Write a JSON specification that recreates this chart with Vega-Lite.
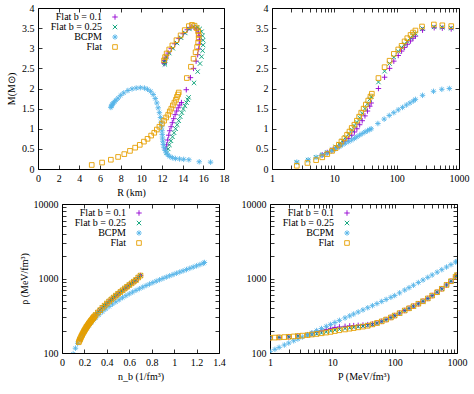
{
"$schema": "https://vega.github.io/schema/vega-lite/v6.json",
"padding": {"left": 5, "top": 2, "right": 5, "bottom": 5},
"config": {
 "font": "Liberation Serif",
 "view": {"stroke": "#000", "strokeWidth": 1},
 "axis": {"grid": false, "domain": false, "ticks": true, "tickColor": "#000", "tickSize": -4, "tickWidth": 0.8, "labelColor": "#000", "labelFont": "Liberation Serif", "labelFontSize": 10, "labelPadding": 8, "labelFlush": false, "labelOverlap": false, "titleColor": "#000", "titleFont": "Liberation Serif", "titleFontSize": 10, "titleFontWeight": "normal", "titlePadding": 4},
 "legend": {"labelFont": "Liberation Serif", "labelFontSize": 10, "labelColor": "#000"}
},
"datasets": {
"none": [],
"mr": [
{"eos":"Flat b = 0.1","R":12.35,"M":0.5},{"eos":"Flat b = 0.1","R":12.45,"M":0.6},{"eos":"Flat b = 0.1","R":12.55,"M":0.72},{"eos":"Flat b = 0.1","R":12.65,"M":0.84},{"eos":"Flat b = 0.1","R":12.75,"M":0.95},{"eos":"Flat b = 0.1","R":12.88,"M":1.05},{"eos":"Flat b = 0.1","R":13.0,"M":1.15},{"eos":"Flat b = 0.1","R":13.13,"M":1.25},{"eos":"Flat b = 0.1","R":13.27,"M":1.35},{"eos":"Flat b = 0.1","R":13.42,"M":1.44},{"eos":"Flat b = 0.1","R":13.57,"M":1.52},{"eos":"Flat b = 0.1","R":13.72,"M":1.59},{"eos":"Flat b = 0.1","R":13.88,"M":1.65},{"eos":"Flat b = 0.1","R":14.35,"M":1.97},{"eos":"Flat b = 0.1","R":14.75,"M":2.27},{"eos":"Flat b = 0.1","R":15.05,"M":2.5},{"eos":"Flat b = 0.1","R":15.3,"M":2.68},{"eos":"Flat b = 0.1","R":15.45,"M":2.84},{"eos":"Flat b = 0.1","R":15.55,"M":2.98},{"eos":"Flat b = 0.1","R":15.6,"M":3.1},{"eos":"Flat b = 0.1","R":15.62,"M":3.21},{"eos":"Flat b = 0.1","R":15.6,"M":3.31},{"eos":"Flat b = 0.1","R":15.52,"M":3.4},{"eos":"Flat b = 0.1","R":15.35,"M":3.48},{"eos":"Flat b = 0.1","R":15.1,"M":3.52},{"eos":"Flat b = 0.1","R":14.8,"M":3.52},{"eos":"Flat b = 0.1","R":14.45,"M":3.46},{"eos":"Flat b = 0.1","R":14.05,"M":3.36},{"eos":"Flat b = 0.1","R":13.65,"M":3.24},{"eos":"Flat b = 0.1","R":13.25,"M":3.11},{"eos":"Flat b = 0.1","R":12.9,"M":2.99},{"eos":"Flat b = 0.1","R":12.6,"M":2.88},{"eos":"Flat b = 0.1","R":12.4,"M":2.78},{"eos":"Flat b = 0.1","R":12.25,"M":2.7},{"eos":"Flat b = 0.1","R":12.2,"M":2.65},{"eos":"Flat b = 0.1","R":12.22,"M":2.62},
{"eos":"Flat b = 0.25","R":12.45,"M":0.4},{"eos":"Flat b = 0.25","R":12.6,"M":0.5},{"eos":"Flat b = 0.25","R":12.72,"M":0.6},{"eos":"Flat b = 0.25","R":12.87,"M":0.7},{"eos":"Flat b = 0.25","R":13.02,"M":0.8},{"eos":"Flat b = 0.25","R":13.17,"M":0.9},{"eos":"Flat b = 0.25","R":13.32,"M":1.0},{"eos":"Flat b = 0.25","R":13.47,"M":1.1},{"eos":"Flat b = 0.25","R":13.62,"M":1.2},{"eos":"Flat b = 0.25","R":13.77,"M":1.3},{"eos":"Flat b = 0.25","R":13.92,"M":1.4},{"eos":"Flat b = 0.25","R":14.07,"M":1.49},{"eos":"Flat b = 0.25","R":14.22,"M":1.57},{"eos":"Flat b = 0.25","R":14.37,"M":1.65},{"eos":"Flat b = 0.25","R":14.5,"M":1.72},{"eos":"Flat b = 0.25","R":14.58,"M":1.78},{"eos":"Flat b = 0.25","R":15.1,"M":2.14},{"eos":"Flat b = 0.25","R":15.45,"M":2.42},{"eos":"Flat b = 0.25","R":15.68,"M":2.62},{"eos":"Flat b = 0.25","R":15.83,"M":2.79},{"eos":"Flat b = 0.25","R":15.93,"M":2.94},{"eos":"Flat b = 0.25","R":15.98,"M":3.08},{"eos":"Flat b = 0.25","R":15.98,"M":3.2},{"eos":"Flat b = 0.25","R":15.93,"M":3.31},{"eos":"Flat b = 0.25","R":15.82,"M":3.41},{"eos":"Flat b = 0.25","R":15.65,"M":3.48},{"eos":"Flat b = 0.25","R":15.4,"M":3.52},{"eos":"Flat b = 0.25","R":15.05,"M":3.53},{"eos":"Flat b = 0.25","R":14.65,"M":3.48},{"eos":"Flat b = 0.25","R":14.25,"M":3.38},{"eos":"Flat b = 0.25","R":13.85,"M":3.26},{"eos":"Flat b = 0.25","R":13.45,"M":3.13},{"eos":"Flat b = 0.25","R":13.05,"M":3.0},{"eos":"Flat b = 0.25","R":12.7,"M":2.88},{"eos":"Flat b = 0.25","R":12.45,"M":2.78},{"eos":"Flat b = 0.25","R":12.3,"M":2.7},{"eos":"Flat b = 0.25","R":12.25,"M":2.64},{"eos":"Flat b = 0.25","R":12.28,"M":2.6},
{"eos":"BCPM","R":7.05,"M":1.53},{"eos":"BCPM","R":7.1,"M":1.56},{"eos":"BCPM","R":7.15,"M":1.58},{"eos":"BCPM","R":7.2,"M":1.61},{"eos":"BCPM","R":7.3,"M":1.64},{"eos":"BCPM","R":7.4,"M":1.67},{"eos":"BCPM","R":7.55,"M":1.71},{"eos":"BCPM","R":7.75,"M":1.76},{"eos":"BCPM","R":8.0,"M":1.83},{"eos":"BCPM","R":8.3,"M":1.89},{"eos":"BCPM","R":8.7,"M":1.95},{"eos":"BCPM","R":9.1,"M":1.99},{"eos":"BCPM","R":9.5,"M":2.01},{"eos":"BCPM","R":9.9,"M":2.02},{"eos":"BCPM","R":10.3,"M":2.01},{"eos":"BCPM","R":10.6,"M":1.98},{"eos":"BCPM","R":10.9,"M":1.93},{"eos":"BCPM","R":11.15,"M":1.85},{"eos":"BCPM","R":11.35,"M":1.75},{"eos":"BCPM","R":11.5,"M":1.64},{"eos":"BCPM","R":11.63,"M":1.52},{"eos":"BCPM","R":11.75,"M":1.4},{"eos":"BCPM","R":11.85,"M":1.28},{"eos":"BCPM","R":11.92,"M":1.16},{"eos":"BCPM","R":11.97,"M":1.05},{"eos":"BCPM","R":12.0,"M":0.95},{"eos":"BCPM","R":12.02,"M":0.86},{"eos":"BCPM","R":12.05,"M":0.77},{"eos":"BCPM","R":12.08,"M":0.69},{"eos":"BCPM","R":12.13,"M":0.61},{"eos":"BCPM","R":12.2,"M":0.53},{"eos":"BCPM","R":12.3,"M":0.46},{"eos":"BCPM","R":12.42,"M":0.4},{"eos":"BCPM","R":12.57,"M":0.35},{"eos":"BCPM","R":12.75,"M":0.31},{"eos":"BCPM","R":13.0,"M":0.28},{"eos":"BCPM","R":13.3,"M":0.26},{"eos":"BCPM","R":13.7,"M":0.25},{"eos":"BCPM","R":14.1,"M":0.24},{"eos":"BCPM","R":14.6,"M":0.23},{"eos":"BCPM","R":15.6,"M":0.18},{"eos":"BCPM","R":16.7,"M":0.17},
{"eos":"Flat","R":5.2,"M":0.1},{"eos":"Flat","R":6.2,"M":0.16},{"eos":"Flat","R":7.05,"M":0.23},{"eos":"Flat","R":7.75,"M":0.3},{"eos":"Flat","R":8.35,"M":0.37},{"eos":"Flat","R":8.9,"M":0.45},{"eos":"Flat","R":9.4,"M":0.53},{"eos":"Flat","R":9.85,"M":0.6},{"eos":"Flat","R":10.25,"M":0.68},{"eos":"Flat","R":10.6,"M":0.75},{"eos":"Flat","R":10.95,"M":0.83},{"eos":"Flat","R":11.25,"M":0.9},{"eos":"Flat","R":11.5,"M":0.98},{"eos":"Flat","R":11.75,"M":1.05},{"eos":"Flat","R":12.0,"M":1.13},{"eos":"Flat","R":12.2,"M":1.2},{"eos":"Flat","R":12.4,"M":1.28},{"eos":"Flat","R":12.6,"M":1.35},{"eos":"Flat","R":12.75,"M":1.43},{"eos":"Flat","R":12.9,"M":1.5},{"eos":"Flat","R":13.05,"M":1.58},{"eos":"Flat","R":13.2,"M":1.65},{"eos":"Flat","R":13.35,"M":1.72},{"eos":"Flat","R":13.45,"M":1.79},{"eos":"Flat","R":13.55,"M":1.85},{"eos":"Flat","R":13.62,"M":1.9},{"eos":"Flat","R":14.4,"M":2.26},{"eos":"Flat","R":14.8,"M":2.54},{"eos":"Flat","R":15.05,"M":2.74},{"eos":"Flat","R":15.25,"M":2.9},{"eos":"Flat","R":15.4,"M":3.03},{"eos":"Flat","R":15.5,"M":3.14},{"eos":"Flat","R":15.55,"M":3.24},{"eos":"Flat","R":15.55,"M":3.33},{"eos":"Flat","R":15.5,"M":3.42},{"eos":"Flat","R":15.35,"M":3.5},{"eos":"Flat","R":15.15,"M":3.56},{"eos":"Flat","R":14.9,"M":3.58},{"eos":"Flat","R":14.6,"M":3.55},{"eos":"Flat","R":14.2,"M":3.45},{"eos":"Flat","R":13.8,"M":3.32},{"eos":"Flat","R":13.4,"M":3.2},{"eos":"Flat","R":13.0,"M":3.07},{"eos":"Flat","R":12.7,"M":2.97},{"eos":"Flat","R":12.45,"M":2.87},{"eos":"Flat","R":12.3,"M":2.78},{"eos":"Flat","R":12.2,"M":2.7}
],
"mp": [
{"eos":"Flat b = 0.1","pc":6.4,"M":0.35},{"eos":"Flat b = 0.1","pc":7.7,"M":0.41},{"eos":"Flat b = 0.1","pc":9.2,"M":0.47},{"eos":"Flat b = 0.1","pc":10.5,"M":0.52},{"eos":"Flat b = 0.1","pc":12,"M":0.57},{"eos":"Flat b = 0.1","pc":13.5,"M":0.63},{"eos":"Flat b = 0.1","pc":15,"M":0.69},{"eos":"Flat b = 0.1","pc":17,"M":0.76},{"eos":"Flat b = 0.1","pc":19,"M":0.84},{"eos":"Flat b = 0.1","pc":21,"M":0.92},{"eos":"Flat b = 0.1","pc":23,"M":1.0},{"eos":"Flat b = 0.1","pc":25.5,"M":1.1},{"eos":"Flat b = 0.1","pc":28,"M":1.2},{"eos":"Flat b = 0.1","pc":31,"M":1.32},{"eos":"Flat b = 0.1","pc":34,"M":1.44},{"eos":"Flat b = 0.1","pc":37,"M":1.56},{"eos":"Flat b = 0.1","pc":39,"M":1.64},{"eos":"Flat b = 0.1","pc":51,"M":2.0},{"eos":"Flat b = 0.1","pc":64,"M":2.28},{"eos":"Flat b = 0.1","pc":77,"M":2.5},{"eos":"Flat b = 0.1","pc":90,"M":2.68},{"eos":"Flat b = 0.1","pc":106,"M":2.82},{"eos":"Flat b = 0.1","pc":120,"M":2.93},{"eos":"Flat b = 0.1","pc":134,"M":3.02},{"eos":"Flat b = 0.1","pc":148,"M":3.1},{"eos":"Flat b = 0.1","pc":167,"M":3.18},{"eos":"Flat b = 0.1","pc":183,"M":3.25},{"eos":"Flat b = 0.1","pc":200,"M":3.3},{"eos":"Flat b = 0.1","pc":260,"M":3.45},{"eos":"Flat b = 0.1","pc":400,"M":3.51},{"eos":"Flat b = 0.1","pc":540,"M":3.5},{"eos":"Flat b = 0.1","pc":750,"M":3.48},
{"eos":"Flat b = 0.25","pc":2.5,"M":0.16},{"eos":"Flat b = 0.25","pc":3.8,"M":0.22},{"eos":"Flat b = 0.25","pc":5.1,"M":0.29},{"eos":"Flat b = 0.25","pc":6.4,"M":0.35},{"eos":"Flat b = 0.25","pc":7.7,"M":0.41},{"eos":"Flat b = 0.25","pc":9.2,"M":0.48},{"eos":"Flat b = 0.25","pc":10.5,"M":0.55},{"eos":"Flat b = 0.25","pc":12,"M":0.62},{"eos":"Flat b = 0.25","pc":13.5,"M":0.7},{"eos":"Flat b = 0.25","pc":15,"M":0.78},{"eos":"Flat b = 0.25","pc":17,"M":0.87},{"eos":"Flat b = 0.25","pc":19,"M":0.97},{"eos":"Flat b = 0.25","pc":21,"M":1.07},{"eos":"Flat b = 0.25","pc":23,"M":1.16},{"eos":"Flat b = 0.25","pc":25.5,"M":1.27},{"eos":"Flat b = 0.25","pc":28,"M":1.38},{"eos":"Flat b = 0.25","pc":31,"M":1.5},{"eos":"Flat b = 0.25","pc":34,"M":1.62},{"eos":"Flat b = 0.25","pc":37,"M":1.73},{"eos":"Flat b = 0.25","pc":39,"M":1.8},{"eos":"Flat b = 0.25","pc":51,"M":2.16},{"eos":"Flat b = 0.25","pc":64,"M":2.43},{"eos":"Flat b = 0.25","pc":77,"M":2.62},{"eos":"Flat b = 0.25","pc":90,"M":2.78},{"eos":"Flat b = 0.25","pc":106,"M":2.92},{"eos":"Flat b = 0.25","pc":120,"M":3.02},{"eos":"Flat b = 0.25","pc":134,"M":3.1},{"eos":"Flat b = 0.25","pc":148,"M":3.18},{"eos":"Flat b = 0.25","pc":167,"M":3.26},{"eos":"Flat b = 0.25","pc":183,"M":3.32},{"eos":"Flat b = 0.25","pc":200,"M":3.37},{"eos":"Flat b = 0.25","pc":260,"M":3.49},{"eos":"Flat b = 0.25","pc":400,"M":3.53},{"eos":"Flat b = 0.25","pc":540,"M":3.52},{"eos":"Flat b = 0.25","pc":750,"M":3.5},
{"eos":"BCPM","pc":2.5,"M":0.17},{"eos":"BCPM","pc":3.8,"M":0.23},{"eos":"BCPM","pc":5.1,"M":0.29},{"eos":"BCPM","pc":6.3,"M":0.34},{"eos":"BCPM","pc":7.6,"M":0.39},{"eos":"BCPM","pc":9.0,"M":0.45},{"eos":"BCPM","pc":10.5,"M":0.5},{"eos":"BCPM","pc":12,"M":0.55},{"eos":"BCPM","pc":13.5,"M":0.6},{"eos":"BCPM","pc":15,"M":0.64},{"eos":"BCPM","pc":17,"M":0.68},{"eos":"BCPM","pc":19,"M":0.72},{"eos":"BCPM","pc":21,"M":0.76},{"eos":"BCPM","pc":23,"M":0.8},{"eos":"BCPM","pc":25.5,"M":0.84},{"eos":"BCPM","pc":28,"M":0.88},{"eos":"BCPM","pc":31,"M":0.92},{"eos":"BCPM","pc":34,"M":0.95},{"eos":"BCPM","pc":37,"M":0.98},{"eos":"BCPM","pc":39,"M":1.0},{"eos":"BCPM","pc":50,"M":1.13},{"eos":"BCPM","pc":63,"M":1.24},{"eos":"BCPM","pc":76,"M":1.33},{"eos":"BCPM","pc":90,"M":1.4},{"eos":"BCPM","pc":106,"M":1.47},{"eos":"BCPM","pc":124,"M":1.53},{"eos":"BCPM","pc":143,"M":1.59},{"eos":"BCPM","pc":163,"M":1.64},{"eos":"BCPM","pc":185,"M":1.69},{"eos":"BCPM","pc":200,"M":1.73},{"eos":"BCPM","pc":260,"M":1.83},{"eos":"BCPM","pc":390,"M":1.93},{"eos":"BCPM","pc":530,"M":1.98},{"eos":"BCPM","pc":700,"M":2.0},
{"eos":"Flat","pc":2.5,"M":0.08},{"eos":"Flat","pc":3.7,"M":0.15},{"eos":"Flat","pc":5.1,"M":0.22},{"eos":"Flat","pc":6.4,"M":0.29},{"eos":"Flat","pc":7.7,"M":0.37},{"eos":"Flat","pc":9.2,"M":0.45},{"eos":"Flat","pc":10.5,"M":0.52},{"eos":"Flat","pc":11.8,"M":0.6},{"eos":"Flat","pc":13,"M":0.68},{"eos":"Flat","pc":14.5,"M":0.76},{"eos":"Flat","pc":16,"M":0.85},{"eos":"Flat","pc":17.5,"M":0.93},{"eos":"Flat","pc":19,"M":1.02},{"eos":"Flat","pc":21,"M":1.1},{"eos":"Flat","pc":23,"M":1.2},{"eos":"Flat","pc":25,"M":1.3},{"eos":"Flat","pc":27,"M":1.4},{"eos":"Flat","pc":29.5,"M":1.5},{"eos":"Flat","pc":32,"M":1.6},{"eos":"Flat","pc":35,"M":1.7},{"eos":"Flat","pc":38,"M":1.8},{"eos":"Flat","pc":40,"M":1.87},{"eos":"Flat","pc":51,"M":2.26},{"eos":"Flat","pc":64,"M":2.53},{"eos":"Flat","pc":77,"M":2.69},{"eos":"Flat","pc":90,"M":2.86},{"eos":"Flat","pc":106,"M":2.97},{"eos":"Flat","pc":120,"M":3.06},{"eos":"Flat","pc":134,"M":3.17},{"eos":"Flat","pc":148,"M":3.25},{"eos":"Flat","pc":167,"M":3.33},{"eos":"Flat","pc":183,"M":3.39},{"eos":"Flat","pc":200,"M":3.44},{"eos":"Flat","pc":255,"M":3.54},{"eos":"Flat","pc":395,"M":3.59},{"eos":"Flat","pc":540,"M":3.57},{"eos":"Flat","pc":750,"M":3.55}
],
"en": [
{"eos":"Flat b = 0.1","nb":0.16,"rho":152},{"eos":"Flat b = 0.1","nb":0.18,"rho":176},{"eos":"Flat b = 0.1","nb":0.2,"rho":200},{"eos":"Flat b = 0.1","nb":0.22,"rho":224},{"eos":"Flat b = 0.1","nb":0.24,"rho":248},{"eos":"Flat b = 0.1","nb":0.26,"rho":272},{"eos":"Flat b = 0.1","nb":0.28,"rho":298},{"eos":"Flat b = 0.1","nb":0.3,"rho":324},{"eos":"Flat b = 0.1","nb":0.32,"rho":350},{"eos":"Flat b = 0.1","nb":0.34,"rho":376},{"eos":"Flat b = 0.1","nb":0.36,"rho":404},{"eos":"Flat b = 0.1","nb":0.38,"rho":432},{"eos":"Flat b = 0.1","nb":0.4,"rho":461},{"eos":"Flat b = 0.1","nb":0.42,"rho":492},{"eos":"Flat b = 0.1","nb":0.44,"rho":523},{"eos":"Flat b = 0.1","nb":0.46,"rho":555},{"eos":"Flat b = 0.1","nb":0.48,"rho":588},{"eos":"Flat b = 0.1","nb":0.5,"rho":622},{"eos":"Flat b = 0.1","nb":0.52,"rho":658},{"eos":"Flat b = 0.1","nb":0.54,"rho":695},{"eos":"Flat b = 0.1","nb":0.56,"rho":734},{"eos":"Flat b = 0.1","nb":0.58,"rho":774},{"eos":"Flat b = 0.1","nb":0.6,"rho":817},{"eos":"Flat b = 0.1","nb":0.62,"rho":861},{"eos":"Flat b = 0.1","nb":0.64,"rho":907},{"eos":"Flat b = 0.1","nb":0.66,"rho":955},{"eos":"Flat b = 0.1","nb":0.68,"rho":1030},{"eos":"Flat b = 0.1","nb":0.7,"rho":1095},
{"eos":"Flat b = 0.25","nb":0.16,"rho":152},{"eos":"Flat b = 0.25","nb":0.18,"rho":176},{"eos":"Flat b = 0.25","nb":0.2,"rho":200},{"eos":"Flat b = 0.25","nb":0.22,"rho":224},{"eos":"Flat b = 0.25","nb":0.24,"rho":248},{"eos":"Flat b = 0.25","nb":0.26,"rho":272},{"eos":"Flat b = 0.25","nb":0.28,"rho":298},{"eos":"Flat b = 0.25","nb":0.3,"rho":324},{"eos":"Flat b = 0.25","nb":0.32,"rho":350},{"eos":"Flat b = 0.25","nb":0.34,"rho":376},{"eos":"Flat b = 0.25","nb":0.36,"rho":404},{"eos":"Flat b = 0.25","nb":0.38,"rho":432},{"eos":"Flat b = 0.25","nb":0.4,"rho":461},{"eos":"Flat b = 0.25","nb":0.42,"rho":492},{"eos":"Flat b = 0.25","nb":0.44,"rho":523},{"eos":"Flat b = 0.25","nb":0.46,"rho":555},{"eos":"Flat b = 0.25","nb":0.48,"rho":588},{"eos":"Flat b = 0.25","nb":0.5,"rho":622},{"eos":"Flat b = 0.25","nb":0.52,"rho":658},{"eos":"Flat b = 0.25","nb":0.54,"rho":695},{"eos":"Flat b = 0.25","nb":0.56,"rho":734},{"eos":"Flat b = 0.25","nb":0.58,"rho":774},{"eos":"Flat b = 0.25","nb":0.6,"rho":817},{"eos":"Flat b = 0.25","nb":0.62,"rho":861},{"eos":"Flat b = 0.25","nb":0.64,"rho":907},{"eos":"Flat b = 0.25","nb":0.66,"rho":955},{"eos":"Flat b = 0.25","nb":0.68,"rho":1030},{"eos":"Flat b = 0.25","nb":0.7,"rho":1095},
{"eos":"BCPM","nb":0.1,"rho":97},{"eos":"BCPM","nb":0.12,"rho":116},{"eos":"BCPM","nb":0.14,"rho":135},{"eos":"BCPM","nb":0.16,"rho":155},{"eos":"BCPM","nb":0.18,"rho":174},{"eos":"BCPM","nb":0.2,"rho":194},{"eos":"BCPM","nb":0.22,"rho":214},{"eos":"BCPM","nb":0.24,"rho":234},{"eos":"BCPM","nb":0.26,"rho":254},{"eos":"BCPM","nb":0.28,"rho":274},{"eos":"BCPM","nb":0.3,"rho":295},{"eos":"BCPM","nb":0.33,"rho":326},{"eos":"BCPM","nb":0.36,"rho":357},{"eos":"BCPM","nb":0.39,"rho":389},{"eos":"BCPM","nb":0.42,"rho":421},{"eos":"BCPM","nb":0.45,"rho":453},{"eos":"BCPM","nb":0.48,"rho":486},{"eos":"BCPM","nb":0.51,"rho":519},{"eos":"BCPM","nb":0.54,"rho":553},{"eos":"BCPM","nb":0.57,"rho":587},{"eos":"BCPM","nb":0.6,"rho":622},{"eos":"BCPM","nb":0.63,"rho":657},{"eos":"BCPM","nb":0.66,"rho":693},{"eos":"BCPM","nb":0.69,"rho":729},{"eos":"BCPM","nb":0.72,"rho":766},{"eos":"BCPM","nb":0.75,"rho":804},{"eos":"BCPM","nb":0.78,"rho":842},{"eos":"BCPM","nb":0.81,"rho":881},{"eos":"BCPM","nb":0.84,"rho":921},{"eos":"BCPM","nb":0.87,"rho":961},{"eos":"BCPM","nb":0.9,"rho":1002},{"eos":"BCPM","nb":0.93,"rho":1044},{"eos":"BCPM","nb":0.96,"rho":1087},{"eos":"BCPM","nb":0.99,"rho":1130},{"eos":"BCPM","nb":1.02,"rho":1175},{"eos":"BCPM","nb":1.05,"rho":1220},{"eos":"BCPM","nb":1.08,"rho":1268},{"eos":"BCPM","nb":1.11,"rho":1318},{"eos":"BCPM","nb":1.14,"rho":1370},{"eos":"BCPM","nb":1.17,"rho":1424},{"eos":"BCPM","nb":1.2,"rho":1480},{"eos":"BCPM","nb":1.23,"rho":1538},{"eos":"BCPM","nb":1.26,"rho":1598},{"eos":"BCPM","nb":1.27,"rho":1640},
{"eos":"Flat","nb":0.15,"rho":140},{"eos":"Flat","nb":0.155,"rho":146},{"eos":"Flat","nb":0.16,"rho":152},{"eos":"Flat","nb":0.165,"rho":158},{"eos":"Flat","nb":0.17,"rho":164},{"eos":"Flat","nb":0.175,"rho":170},{"eos":"Flat","nb":0.18,"rho":176},{"eos":"Flat","nb":0.185,"rho":182},{"eos":"Flat","nb":0.19,"rho":188},{"eos":"Flat","nb":0.195,"rho":194},{"eos":"Flat","nb":0.2,"rho":200},{"eos":"Flat","nb":0.205,"rho":206},{"eos":"Flat","nb":0.21,"rho":212},{"eos":"Flat","nb":0.215,"rho":218},{"eos":"Flat","nb":0.22,"rho":224},{"eos":"Flat","nb":0.225,"rho":230},{"eos":"Flat","nb":0.23,"rho":236},{"eos":"Flat","nb":0.235,"rho":242},{"eos":"Flat","nb":0.24,"rho":248},{"eos":"Flat","nb":0.245,"rho":254},{"eos":"Flat","nb":0.25,"rho":260},{"eos":"Flat","nb":0.255,"rho":266},{"eos":"Flat","nb":0.26,"rho":272},{"eos":"Flat","nb":0.265,"rho":278},{"eos":"Flat","nb":0.27,"rho":285},{"eos":"Flat","nb":0.275,"rho":291},{"eos":"Flat","nb":0.28,"rho":298},{"eos":"Flat","nb":0.285,"rho":304},{"eos":"Flat","nb":0.29,"rho":311},{"eos":"Flat","nb":0.3,"rho":324},{"eos":"Flat","nb":0.32,"rho":350},{"eos":"Flat","nb":0.34,"rho":376},{"eos":"Flat","nb":0.36,"rho":404},{"eos":"Flat","nb":0.38,"rho":432},{"eos":"Flat","nb":0.4,"rho":461},{"eos":"Flat","nb":0.42,"rho":492},{"eos":"Flat","nb":0.44,"rho":523},{"eos":"Flat","nb":0.46,"rho":555},{"eos":"Flat","nb":0.48,"rho":588},{"eos":"Flat","nb":0.5,"rho":622},{"eos":"Flat","nb":0.52,"rho":658},{"eos":"Flat","nb":0.54,"rho":695},{"eos":"Flat","nb":0.56,"rho":734},{"eos":"Flat","nb":0.58,"rho":774},{"eos":"Flat","nb":0.6,"rho":817},{"eos":"Flat","nb":0.62,"rho":861},{"eos":"Flat","nb":0.64,"rho":907},{"eos":"Flat","nb":0.66,"rho":955},{"eos":"Flat","nb":0.68,"rho":1030},{"eos":"Flat","nb":0.7,"rho":1095}
],
"ep": [
{"eos":"Flat b = 0.1","P":1,"rho":160},{"eos":"Flat b = 0.1","P":1.4,"rho":162},{"eos":"Flat b = 0.1","P":2,"rho":165},{"eos":"Flat b = 0.1","P":2.8,"rho":169},{"eos":"Flat b = 0.1","P":4,"rho":176},{"eos":"Flat b = 0.1","P":4.7,"rho":182},{"eos":"Flat b = 0.1","P":5.6,"rho":190},{"eos":"Flat b = 0.1","P":6.7,"rho":199},{"eos":"Flat b = 0.1","P":8,"rho":207},{"eos":"Flat b = 0.1","P":9.4,"rho":214},{"eos":"Flat b = 0.1","P":11,"rho":220},{"eos":"Flat b = 0.1","P":13,"rho":224},{"eos":"Flat b = 0.1","P":16,"rho":228},{"eos":"Flat b = 0.1","P":19,"rho":231},{"eos":"Flat b = 0.1","P":22,"rho":233},{"eos":"Flat b = 0.1","P":26,"rho":235},{"eos":"Flat b = 0.1","P":31,"rho":237},{"eos":"Flat b = 0.1","P":37,"rho":240},{"eos":"Flat b = 0.1","P":44,"rho":245},{"eos":"Flat b = 0.1","P":52,"rho":253},{"eos":"Flat b = 0.1","P":62,"rho":266},{"eos":"Flat b = 0.1","P":73,"rho":281},{"eos":"Flat b = 0.1","P":87,"rho":300},{"eos":"Flat b = 0.1","P":100,"rho":318},{"eos":"Flat b = 0.1","P":120,"rho":343},{"eos":"Flat b = 0.1","P":145,"rho":372},{"eos":"Flat b = 0.1","P":170,"rho":398},{"eos":"Flat b = 0.1","P":200,"rho":425},{"eos":"Flat b = 0.1","P":240,"rho":458},{"eos":"Flat b = 0.1","P":285,"rho":495},{"eos":"Flat b = 0.1","P":340,"rho":540},{"eos":"Flat b = 0.1","P":400,"rho":590},{"eos":"Flat b = 0.1","P":480,"rho":655},{"eos":"Flat b = 0.1","P":570,"rho":728},{"eos":"Flat b = 0.1","P":680,"rho":820},{"eos":"Flat b = 0.1","P":800,"rho":920},{"eos":"Flat b = 0.1","P":950,"rho":1050},{"eos":"Flat b = 0.1","P":1000,"rho":1110},
{"eos":"Flat b = 0.25","P":1,"rho":160},{"eos":"Flat b = 0.25","P":1.4,"rho":162},{"eos":"Flat b = 0.25","P":2,"rho":165},{"eos":"Flat b = 0.25","P":2.8,"rho":169},{"eos":"Flat b = 0.25","P":4,"rho":174},{"eos":"Flat b = 0.25","P":4.7,"rho":177},{"eos":"Flat b = 0.25","P":5.6,"rho":181},{"eos":"Flat b = 0.25","P":6.7,"rho":186},{"eos":"Flat b = 0.25","P":8,"rho":192},{"eos":"Flat b = 0.25","P":9.4,"rho":198},{"eos":"Flat b = 0.25","P":11,"rho":203},{"eos":"Flat b = 0.25","P":13,"rho":208},{"eos":"Flat b = 0.25","P":16,"rho":213},{"eos":"Flat b = 0.25","P":19,"rho":218},{"eos":"Flat b = 0.25","P":22,"rho":222},{"eos":"Flat b = 0.25","P":26,"rho":226},{"eos":"Flat b = 0.25","P":31,"rho":230},{"eos":"Flat b = 0.25","P":37,"rho":235},{"eos":"Flat b = 0.25","P":44,"rho":241},{"eos":"Flat b = 0.25","P":52,"rho":251},{"eos":"Flat b = 0.25","P":62,"rho":265},{"eos":"Flat b = 0.25","P":73,"rho":280},{"eos":"Flat b = 0.25","P":87,"rho":299},{"eos":"Flat b = 0.25","P":100,"rho":317},{"eos":"Flat b = 0.25","P":120,"rho":342},{"eos":"Flat b = 0.25","P":145,"rho":371},{"eos":"Flat b = 0.25","P":170,"rho":397},{"eos":"Flat b = 0.25","P":200,"rho":424},{"eos":"Flat b = 0.25","P":240,"rho":457},{"eos":"Flat b = 0.25","P":285,"rho":494},{"eos":"Flat b = 0.25","P":340,"rho":539},{"eos":"Flat b = 0.25","P":400,"rho":589},{"eos":"Flat b = 0.25","P":480,"rho":654},{"eos":"Flat b = 0.25","P":570,"rho":727},{"eos":"Flat b = 0.25","P":680,"rho":819},{"eos":"Flat b = 0.25","P":800,"rho":919},{"eos":"Flat b = 0.25","P":950,"rho":1049},{"eos":"Flat b = 0.25","P":1000,"rho":1108},
{"eos":"BCPM","P":1,"rho":105},{"eos":"BCPM","P":1.2,"rho":112},{"eos":"BCPM","P":1.4,"rho":119},{"eos":"BCPM","P":1.7,"rho":128},{"eos":"BCPM","P":2,"rho":136},{"eos":"BCPM","P":2.4,"rho":146},{"eos":"BCPM","P":2.8,"rho":154},{"eos":"BCPM","P":3.3,"rho":164},{"eos":"BCPM","P":4,"rho":176},{"eos":"BCPM","P":4.7,"rho":187},{"eos":"BCPM","P":5.6,"rho":200},{"eos":"BCPM","P":6.7,"rho":213},{"eos":"BCPM","P":8,"rho":228},{"eos":"BCPM","P":9.4,"rho":242},{"eos":"BCPM","P":11,"rho":257},{"eos":"BCPM","P":13,"rho":274},{"eos":"BCPM","P":16,"rho":296},{"eos":"BCPM","P":19,"rho":315},{"eos":"BCPM","P":22,"rho":333},{"eos":"BCPM","P":26,"rho":355},{"eos":"BCPM","P":31,"rho":379},{"eos":"BCPM","P":37,"rho":405},{"eos":"BCPM","P":44,"rho":432},{"eos":"BCPM","P":52,"rho":460},{"eos":"BCPM","P":62,"rho":492},{"eos":"BCPM","P":73,"rho":523},{"eos":"BCPM","P":87,"rho":559},{"eos":"BCPM","P":100,"rho":590},{"eos":"BCPM","P":120,"rho":641},{"eos":"BCPM","P":145,"rho":700},{"eos":"BCPM","P":170,"rho":753},{"eos":"BCPM","P":200,"rho":811},{"eos":"BCPM","P":240,"rho":883},{"eos":"BCPM","P":285,"rho":955},{"eos":"BCPM","P":340,"rho":1036},{"eos":"BCPM","P":400,"rho":1116},{"eos":"BCPM","P":480,"rho":1215},{"eos":"BCPM","P":570,"rho":1314},{"eos":"BCPM","P":680,"rho":1425},{"eos":"BCPM","P":800,"rho":1535},{"eos":"BCPM","P":950,"rho":1661},{"eos":"BCPM","P":1000,"rho":1700},
{"eos":"Flat","P":1,"rho":160},{"eos":"Flat","P":1.2,"rho":161},{"eos":"Flat","P":1.4,"rho":162},{"eos":"Flat","P":1.7,"rho":163.5},{"eos":"Flat","P":2,"rho":165},{"eos":"Flat","P":2.4,"rho":167},{"eos":"Flat","P":2.8,"rho":169},{"eos":"Flat","P":3.3,"rho":171},{"eos":"Flat","P":4,"rho":174},{"eos":"Flat","P":4.7,"rho":177},{"eos":"Flat","P":5.6,"rho":180},{"eos":"Flat","P":6.7,"rho":184},{"eos":"Flat","P":8,"rho":188},{"eos":"Flat","P":9.4,"rho":192},{"eos":"Flat","P":11,"rho":197},{"eos":"Flat","P":13,"rho":202},{"eos":"Flat","P":16,"rho":207},{"eos":"Flat","P":19,"rho":212},{"eos":"Flat","P":22,"rho":216},{"eos":"Flat","P":26,"rho":221},{"eos":"Flat","P":31,"rho":226},{"eos":"Flat","P":37,"rho":232},{"eos":"Flat","P":44,"rho":242},{"eos":"Flat","P":52,"rho":253},{"eos":"Flat","P":62,"rho":266},{"eos":"Flat","P":73,"rho":281},{"eos":"Flat","P":87,"rho":300},{"eos":"Flat","P":100,"rho":318},{"eos":"Flat","P":120,"rho":343},{"eos":"Flat","P":145,"rho":372},{"eos":"Flat","P":170,"rho":398},{"eos":"Flat","P":200,"rho":425},{"eos":"Flat","P":240,"rho":458},{"eos":"Flat","P":285,"rho":495},{"eos":"Flat","P":340,"rho":540},{"eos":"Flat","P":400,"rho":590},{"eos":"Flat","P":480,"rho":655},{"eos":"Flat","P":570,"rho":728},{"eos":"Flat","P":680,"rho":820},{"eos":"Flat","P":800,"rho":920},{"eos":"Flat","P":950,"rho":1050},{"eos":"Flat","P":1000,"rho":1110}
]
},
"spacing": 0,
"resolve": {"scale": {"color": "independent", "shape": "independent"}, "legend": {"color": "independent", "shape": "independent"}},
"vconcat": [
{
 "spacing": 0,
 "resolve": {"scale": {"color": "independent", "shape": "independent"}, "legend": {"color": "independent", "shape": "independent"}},
 "hconcat": [
 {"width": 1, "height": 1, "data": {"name": "none"}, "mark": {"type": "point", "opacity": 0}, "encoding": {}, "view": {"stroke": null}},
 {
 "spacing": 25,
 "resolve": {"scale": {"color": "independent", "shape": "independent"}, "legend": {"color": "independent", "shape": "independent"}},
 "hconcat": [
 {
  "width": 186, "height": 161,
  "data": {"name": "mr"},
  "resolve": {"axis": {"x": "independent", "y": "independent"}},
  "layer": [
   {"mark": {"type": "point", "filled": false, "size": 30, "strokeWidth": 0.9, "opacity": 1, "clip": true},
    "encoding": {
     "x": {"field": "R", "type": "quantitative", "scale": {"domain": [0, 18], "nice": false}, "axis": {"values": [0,2,4,6,8,10,12,14,16,18], "format": "~g", "title": "R (km)"}},
     "y": {"field": "M", "type": "quantitative", "scale": {"domain": [0, 4], "nice": false}, "axis": {"values": [0,0.5,1,1.5,2,2.5,3,3.5,4], "format": "~g", "title": "M(M⊙)", "titlePadding": 5}},
     "color": {"field": "eos", "type": "nominal", "scale": {"domain": ["Flat b = 0.1","Flat b = 0.25","BCPM","Flat"], "range": ["#9400d3","#009e73","#56b4e9","#e69f00"]}, "legend": {"orient": "none", "legendX": 72, "legendY": 4, "title": null, "labelAlign": "right", "labelOffset": -18, "padding": 0, "rowPadding": -3, "symbolSize": 30, "symbolStrokeWidth": 0.9}},
     "shape": {"field": "eos", "type": "nominal", "scale": {"domain": ["Flat b = 0.1","Flat b = 0.25","BCPM","Flat"], "range": ["M-1,0L1,0M0,-1L0,1","M-0.8,-0.8L0.8,0.8M-0.8,0.8L0.8,-0.8","M-1,0L1,0M0,-1L0,1M-0.7,-0.7L0.7,0.7M-0.7,0.7L0.7,-0.7","M-0.85,-0.85L0.85,-0.85L0.85,0.85L-0.85,0.85Z"]}, "legend": {"orient": "none", "legendX": 72, "legendY": 4, "title": null, "labelAlign": "right", "labelOffset": -18, "padding": 0, "rowPadding": -3, "symbolSize": 30, "symbolStrokeWidth": 0.9}}
    }},
   {"mark": {"type": "point", "opacity": 0},
    "encoding": {
     "x": {"field": "R", "type": "quantitative", "axis": {"orient": "top", "values": [0,2,4,6,8,10,12,14,16,18], "labels": false, "title": null}},
     "y": {"field": "M", "type": "quantitative", "axis": {"orient": "right", "values": [0,0.5,1,1.5,2,2.5,3,3.5,4], "labels": false, "title": null}}
    }}
  ]
 },
 {
  "width": 187, "height": 161,
  "data": {"name": "mp"},
  "resolve": {"axis": {"x": "independent", "y": "independent"}},
  "layer": [
   {"mark": {"type": "point", "filled": false, "size": 30, "strokeWidth": 0.9, "opacity": 1, "clip": true},
    "encoding": {
     "x": {"field": "pc", "type": "quantitative", "scale": {"type": "log", "domain": [1, 1000], "nice": false}, "axis": {"values": [1,2,3,4,5,6,7,8,9,10,20,30,40,50,60,70,80,90,100,200,300,400,500,600,700,800,900,1000], "labelExpr": "abs(log(datum.value)/LN10 - round(log(datum.value)/LN10)) < 0.001 ? format(datum.value, 'd') : ''", "title": null}},
     "y": {"field": "M", "type": "quantitative", "scale": {"domain": [0, 4], "nice": false}, "axis": {"values": [0,0.5,1,1.5,2,2.5,3,3.5,4], "format": "~g", "title": null}},
     "color": {"field": "eos", "type": "nominal", "scale": {"domain": ["Flat b = 0.1","Flat b = 0.25","BCPM","Flat"], "range": ["#9400d3","#009e73","#56b4e9","#e69f00"]}, "legend": null},
     "shape": {"field": "eos", "type": "nominal", "scale": {"domain": ["Flat b = 0.1","Flat b = 0.25","BCPM","Flat"], "range": ["M-1,0L1,0M0,-1L0,1","M-0.8,-0.8L0.8,0.8M-0.8,0.8L0.8,-0.8","M-1,0L1,0M0,-1L0,1M-0.7,-0.7L0.7,0.7M-0.7,0.7L0.7,-0.7","M-0.85,-0.85L0.85,-0.85L0.85,0.85L-0.85,0.85Z"]}, "legend": null}
    }},
   {"mark": {"type": "point", "opacity": 0},
    "encoding": {
     "x": {"field": "pc", "type": "quantitative", "axis": {"orient": "top", "values": [1,2,3,4,5,6,7,8,9,10,20,30,40,50,60,70,80,90,100,200,300,400,500,600,700,800,900,1000], "labels": false, "title": null}},
     "y": {"field": "M", "type": "quantitative", "axis": {"orient": "right", "values": [0,0.5,1,1.5,2,2.5,3,3.5,4], "labels": false, "title": null}}
    }}
  ]
 }
 ]
 }
 ]
},
{
 "spacing": 0,
 "resolve": {"scale": {"color": "independent", "shape": "independent"}, "legend": {"color": "independent", "shape": "independent"}},
 "hconcat": [
 {"width": 1, "height": 1, "data": {"name": "none"}, "mark": {"type": "point", "opacity": 0}, "encoding": {}, "view": {"stroke": null}},
 {
 "spacing": 14,
 "resolve": {"scale": {"color": "independent", "shape": "independent"}, "legend": {"color": "independent", "shape": "independent"}},
 "hconcat": [
 {
  "width": 157, "height": 149,
  "data": {"name": "en"},
  "resolve": {"axis": {"x": "independent", "y": "independent"}},
  "layer": [
   {"mark": {"type": "point", "filled": false, "size": 30, "strokeWidth": 0.9, "opacity": 1, "clip": true},
    "encoding": {
     "x": {"field": "nb", "type": "quantitative", "scale": {"domain": [0, 1.4], "nice": false}, "axis": {"values": [0,0.2,0.4,0.6,0.8,1,1.2,1.4], "format": "~g", "title": "n_b (1/fm³)"}},
     "y": {"field": "rho", "type": "quantitative", "scale": {"type": "log", "domain": [100, 10000], "nice": false}, "axis": {"values": [100,200,300,400,500,600,700,800,900,1000,2000,3000,4000,5000,6000,7000,8000,9000,10000], "labelExpr": "abs(log(datum.value)/LN10 - round(log(datum.value)/LN10)) < 0.001 ? format(datum.value, 'd') : ''", "title": [" ", "ρ (MeV/fm³)"], "titleLineHeight": 12, "titlePadding": 4}},
     "color": {"field": "eos", "type": "nominal", "scale": {"domain": ["Flat b = 0.1","Flat b = 0.25","BCPM","Flat"], "range": ["#9400d3","#009e73","#56b4e9","#e69f00"]}, "legend": {"orient": "none", "legendX": 72, "legendY": 4, "title": null, "labelAlign": "right", "labelOffset": -18, "padding": 0, "rowPadding": -3, "symbolSize": 30, "symbolStrokeWidth": 0.9}},
     "shape": {"field": "eos", "type": "nominal", "scale": {"domain": ["Flat b = 0.1","Flat b = 0.25","BCPM","Flat"], "range": ["M-1,0L1,0M0,-1L0,1","M-0.8,-0.8L0.8,0.8M-0.8,0.8L0.8,-0.8","M-1,0L1,0M0,-1L0,1M-0.7,-0.7L0.7,0.7M-0.7,0.7L0.7,-0.7","M-0.85,-0.85L0.85,-0.85L0.85,0.85L-0.85,0.85Z"]}, "legend": {"orient": "none", "legendX": 72, "legendY": 4, "title": null, "labelAlign": "right", "labelOffset": -18, "padding": 0, "rowPadding": -3, "symbolSize": 30, "symbolStrokeWidth": 0.9}}
    }},
   {"mark": {"type": "point", "opacity": 0},
    "encoding": {
     "x": {"field": "nb", "type": "quantitative", "axis": {"orient": "top", "values": [0,0.2,0.4,0.6,0.8,1,1.2,1.4], "labels": false, "title": null}},
     "y": {"field": "rho", "type": "quantitative", "axis": {"orient": "right", "values": [100,200,300,400,500,600,700,800,900,1000,2000,3000,4000,5000,6000,7000,8000,9000,10000], "labels": false, "title": null}}
    }}
  ]
 },
 {
  "width": 187, "height": 149,
  "data": {"name": "ep"},
  "resolve": {"axis": {"x": "independent", "y": "independent"}},
  "layer": [
   {"mark": {"type": "point", "filled": false, "size": 30, "strokeWidth": 0.9, "opacity": 1, "clip": true},
    "encoding": {
     "x": {"field": "P", "type": "quantitative", "scale": {"type": "log", "domain": [1, 1000], "nice": false}, "axis": {"values": [1,2,3,4,5,6,7,8,9,10,20,30,40,50,60,70,80,90,100,200,300,400,500,600,700,800,900,1000], "labelExpr": "abs(log(datum.value)/LN10 - round(log(datum.value)/LN10)) < 0.001 ? format(datum.value, 'd') : ''", "title": "P (MeV/fm³)"}},
     "y": {"field": "rho", "type": "quantitative", "scale": {"type": "log", "domain": [100, 10000], "nice": false}, "axis": {"values": [100,200,300,400,500,600,700,800,900,1000,2000,3000,4000,5000,6000,7000,8000,9000,10000], "labelExpr": "abs(log(datum.value)/LN10 - round(log(datum.value)/LN10)) < 0.001 ? format(datum.value, 'd') : ''", "title": null}},
     "color": {"field": "eos", "type": "nominal", "scale": {"domain": ["Flat b = 0.1","Flat b = 0.25","BCPM","Flat"], "range": ["#9400d3","#009e73","#56b4e9","#e69f00"]}, "legend": {"orient": "none", "legendX": 72, "legendY": 4, "title": null, "labelAlign": "right", "labelOffset": -18, "padding": 0, "rowPadding": -3, "symbolSize": 30, "symbolStrokeWidth": 0.9}},
     "shape": {"field": "eos", "type": "nominal", "scale": {"domain": ["Flat b = 0.1","Flat b = 0.25","BCPM","Flat"], "range": ["M-1,0L1,0M0,-1L0,1","M-0.8,-0.8L0.8,0.8M-0.8,0.8L0.8,-0.8","M-1,0L1,0M0,-1L0,1M-0.7,-0.7L0.7,0.7M-0.7,0.7L0.7,-0.7","M-0.85,-0.85L0.85,-0.85L0.85,0.85L-0.85,0.85Z"]}, "legend": {"orient": "none", "legendX": 72, "legendY": 4, "title": null, "labelAlign": "right", "labelOffset": -18, "padding": 0, "rowPadding": -3, "symbolSize": 30, "symbolStrokeWidth": 0.9}}
    }},
   {"mark": {"type": "point", "opacity": 0},
    "encoding": {
     "x": {"field": "P", "type": "quantitative", "axis": {"orient": "top", "values": [1,2,3,4,5,6,7,8,9,10,20,30,40,50,60,70,80,90,100,200,300,400,500,600,700,800,900,1000], "labels": false, "title": null}},
     "y": {"field": "rho", "type": "quantitative", "axis": {"orient": "right", "values": [100,200,300,400,500,600,700,800,900,1000,2000,3000,4000,5000,6000,7000,8000,9000,10000], "labels": false, "title": null}}
    }}
  ]
 }
 ]
 }
 ]
}
]
}
